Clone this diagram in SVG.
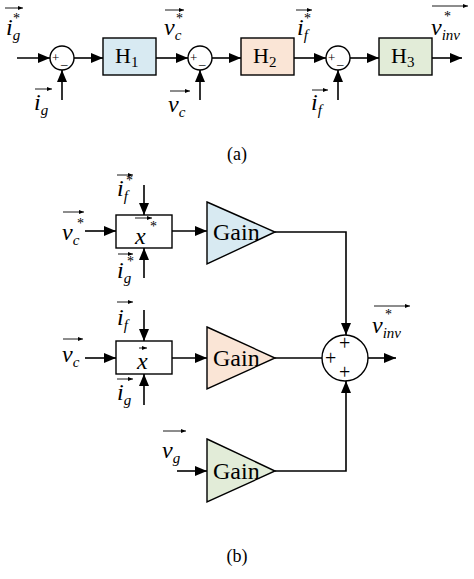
<svg xmlns="http://www.w3.org/2000/svg" width="474" height="579" viewBox="0 0 474 579" font-family="Liberation Serif, Times New Roman, DejaVu Serif, serif">
<style>
.ln{stroke:#000;stroke-width:1.6;fill:none}
.ar{stroke:#000;stroke-width:1.6;fill:none;marker-end:url(#ah)}
.vec{stroke:#000;stroke-width:0.9;fill:none;marker-end:url(#va)}
.m{font-style:italic;font-size:24px}
.s{font-size:15px}
.st{font-size:14px}
.r{font-size:22px}
.g{font-size:24px}
.cap{font-size:18px;text-anchor:middle}
.pm{font-size:13px}
.box{stroke:#000;stroke-width:1.4}
</style>
<defs>
<marker id="ah" markerWidth="12" markerHeight="10" refX="12" refY="5" orient="auto" markerUnits="userSpaceOnUse"><path d="M0,0 L12,5 L0,10 Z" fill="#000"/></marker>
<marker id="va" markerWidth="5" markerHeight="4" refX="5" refY="2" orient="auto" markerUnits="userSpaceOnUse"><path d="M0,0 L5,2 L0,4 Z" fill="#000"/></marker>
</defs>

<!-- (a) -->
<g id="sum1"><circle cx="62" cy="58" r="12" fill="#fff" class="box"/><text class="pm" x="52" y="62">+</text><text class="pm" x="61" y="64">_</text></g>
<g id="H1"><rect x="103" y="38" width="53" height="37" fill="#d8eaf2" class="box"/><text class="r" x="115" y="63">H<tspan class="s" dy="4">1</tspan></text></g>
<g id="sum2"><circle cx="200" cy="58" r="12" fill="#fff" class="box"/><text class="pm" x="190" y="62">+</text><text class="pm" x="199" y="64">_</text></g>
<g id="H2"><rect x="241" y="38" width="53" height="37" fill="#fae5d6" class="box"/><text class="r" x="253" y="63">H<tspan class="s" dy="4">2</tspan></text></g>
<g id="sum3"><circle cx="338" cy="58" r="12" fill="#fff" class="box"/><text class="pm" x="328" y="62">+</text><text class="pm" x="337" y="64">_</text></g>
<g id="H3"><rect x="379" y="38" width="53" height="37" fill="#e2ecd8" class="box"/><text class="r" x="391" y="63">H<tspan class="s" dy="4">3</tspan></text></g>

<g id="labels-a">
<path class="vec" d="M5,8 H23"/><text class="m" x="6" y="35">i<tspan class="s" dy="5">g</tspan></text><text class="st" x="13" y="23">*</text>
<path class="vec" d="M165,10 H184"/><text class="m" x="164" y="35">v<tspan class="s" dy="5">c</tspan></text><text class="st" x="176" y="23">*</text>
<path class="vec" d="M296,10 H312"/><text class="m" x="297" y="35">i<tspan class="s" dy="5">f</tspan></text><text class="st" x="304" y="23">*</text>
<path class="vec" d="M432,6 H468"/><text class="m" x="431" y="35">v<tspan class="s" dy="5">inv</tspan></text><text class="st" x="444" y="21">*</text>
<path class="vec" d="M35,89 H52"/><text class="m" x="34" y="110">i<tspan class="s" dy="5">g</tspan></text>
<path class="vec" d="M170,91 H190"/><text class="m" x="168" y="112">v<tspan class="s" dy="5">c</tspan></text>
<path class="vec" d="M312,90 H328"/><text class="m" x="311" y="110">i<tspan class="s" dy="5">f</tspan></text>
<text class="cap" x="237" y="160">(a)</text>
</g>

<!-- (b) -->
<g id="xstar"><rect x="116" y="215" width="56" height="33" fill="#fff" class="box"/><text class="m" x="135" y="244">x</text><path class="vec" d="M135,218 H152"/><text class="st" x="150" y="231">*</text></g>
<g id="gain1"><path d="M207,202 L275,232 L207,264 Z" fill="#d8eaf2" class="box"/><text class="g" x="213" y="240">Gain</text></g>
<g id="xbox"><rect x="116" y="341" width="56" height="33" fill="#fff" class="box"/><text class="m" x="137" y="369">x</text><path class="vec" d="M139,348 H147"/></g>
<g id="gain2"><path d="M207,327 L275,358 L207,389 Z" fill="#fae5d6" class="box"/><text class="g" x="213" y="366">Gain</text></g>
<g id="gain3"><path d="M207,439 L275,471 L207,502 Z" fill="#e2ecd8" class="box"/><text class="g" x="213" y="479">Gain</text></g>
<g id="sumb"><circle cx="345" cy="358" r="23" fill="#fff" class="box"/><text class="r" x="339" y="350" style="font-size:20px">+</text><text class="r" x="325" y="365" style="font-size:20px">+</text><text class="r" x="339" y="379" style="font-size:20px">+</text></g>

<g id="labels-b">
<path class="vec" d="M63,212 H84"/><text class="m" x="62" y="240">v<tspan class="s" dy="5">c</tspan></text><text class="st" x="77" y="228">*</text>
<path class="vec" d="M117,175 H133"/><text class="m" x="117" y="196">i<tspan class="s" dy="5">f</tspan></text><text class="st" x="126" y="185">*</text>
<path class="vec" d="M118,254 H133"/><text class="m" x="117" y="278">i<tspan class="s" dy="5">g</tspan></text><text class="st" x="127" y="266">*</text>
<path class="vec" d="M63,339 H83"/><text class="m" x="62" y="362">v<tspan class="s" dy="5">c</tspan></text>
<path class="vec" d="M117,302 H133"/><text class="m" x="117" y="325">i<tspan class="s" dy="5">f</tspan></text>
<path class="vec" d="M117,379 H133"/><text class="m" x="117" y="400">i<tspan class="s" dy="5">g</tspan></text>
<path class="vec" d="M163,431 H186"/><text class="m" x="162" y="458">v<tspan class="s" dy="5">g</tspan></text>
<path class="vec" d="M374,306 H410"/><text class="m" x="372" y="333">v<tspan class="s" dy="5">inv</tspan></text><text class="st" x="385" y="319">*</text>
<text class="cap" x="237" y="562">(b)</text>
</g>

<g id="connectors">
<path class="ar" d="M17,58 H50"/>
<path class="ar" d="M62,100 V70"/>
<path class="ar" d="M74,58 H103"/>
<path class="ar" d="M156,58 H188"/>
<path class="ar" d="M200,100 V70"/>
<path class="ar" d="M212,58 H241"/>
<path class="ar" d="M294,58 H326"/>
<path class="ar" d="M338,100 V70"/>
<path class="ar" d="M350,58 H379"/>
<path class="ar" d="M432,58 H462"/>

<path class="ar" d="M85,231 H116"/>
<path class="ar" d="M144,185 V215"/>
<path class="ar" d="M144,278 V248"/>
<path class="ar" d="M172,231 H207"/>
<path class="ar" d="M275,232 H346 V335"/>
<path class="ar" d="M85,358 H116"/>
<path class="ar" d="M144,310 V341"/>
<path class="ar" d="M144,405 V374"/>
<path class="ar" d="M172,358 H207"/>
<path class="ln" d="M275,358 H322"/>
<path class="ar" d="M177,471 H207"/>
<path class="ar" d="M275,471 H346 V381"/>
<path class="ar" d="M368,358 H396"/>
</g>
</svg>
